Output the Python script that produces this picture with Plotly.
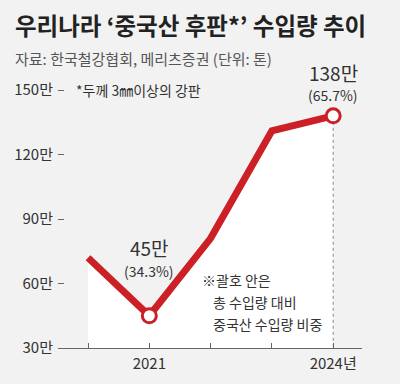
import plotly.graph_objects as go

# Data (단위: 만 톤)
years = [2020, 2021, 2022, 2023, 2024]
imports = [72, 45, 81, 131, 138]
label_years = [2021, 2024]
label_values = ["45만", "138만"]
label_shares = ["(34.3%)", "(65.7%)"]
y_ticks = [30, 60, 90, 120, 150]
y_ticktext = ["30만", "60만", "90만", "120만", "150만"]
x_ticktext = ["", "2021", "", "", "2024년"]
note_lines = ["※괄호 안은", "총 수입량 대비", "중국산 수입량 비중"]

FONT = "Noto Sans CJK KR"
TXT = "#333333"
RED = "#cc2027"
BG = "#f2f2f2"

W, H = 400, 384
L, R, T, B = 58, 38, 80, 36
PW, PH = W - L - R, H - T - B


def px(x):
    return (x - L) / PW


def py(y):
    return (H - B - y) / PH


fig = go.Figure()

# white area under the line
fig.add_trace(go.Scatter(x=years, y=imports, mode="lines", line=dict(width=0),
                         fill="tozeroy", fillcolor="white", hoverinfo="skip"))

# dotted guide at last year
fig.add_trace(go.Scatter(x=[years[-1], years[-1]], y=[imports[-1], y_ticks[0]], mode="lines",
                         line=dict(color="#888888", width=1, dash="dot"), hoverinfo="skip"))

# main line
fig.add_trace(go.Scatter(x=years, y=imports, mode="lines",
                         line=dict(color=RED, width=7)))

# highlighted markers
mk_y = [imports[years.index(y)] for y in label_years]
fig.add_trace(go.Scatter(x=label_years, y=mk_y, mode="markers",
                         marker=dict(size=14, color="white", line=dict(color=RED, width=3))))

for yr, v, s, off_v, off_s in zip(label_years, label_values, label_shares, [68, 43], [45, 21]):
    yy = imports[years.index(yr)]
    fig.add_annotation(x=yr, y=yy, text=v, showarrow=False, yshift=off_v,
                       font=dict(family=FONT, size=19, color=TXT))
    fig.add_annotation(x=yr, y=yy, text=s, showarrow=False, yshift=off_s,
                       font=dict(family=FONT, size=14, color=TXT))

# title & notes
fig.add_annotation(xref="paper", yref="paper", x=px(13), y=py(25), xanchor="left",
                   yanchor="middle", text="<b>우리나라 ‘중국산 후판*’ 수입량 추이</b>", showarrow=False,
                   font=dict(family=FONT, size=23.5, color="#222222"))
fig.add_annotation(xref="paper", yref="paper", x=px(13), y=py(59), xanchor="left",
                   yanchor="middle", text="자료: 한국철강협회, 메리츠증권 (단위: 톤)", showarrow=False,
                   font=dict(family=FONT, size=15, color="#555555"))
fig.add_annotation(xref="paper", yref="paper", x=px(74), y=py(90), xanchor="left",
                   yanchor="middle", text="*두께 3㎜이상의 강판", showarrow=False,
                   font=dict(family=FONT, size=14, color=TXT))
for line, lx, ly in zip(note_lines, [200, 211, 211], [280, 302, 324]):
    fig.add_annotation(xref="paper", yref="paper", x=px(lx), y=py(ly), xanchor="left",
                       yanchor="middle", text=line, showarrow=False,
                       font=dict(family=FONT, size=14, color=TXT))

fig.update_layout(
    width=W, height=H,
    margin=dict(l=L, r=R, t=T, b=B),
    paper_bgcolor=BG, plot_bgcolor=BG,
    showlegend=False,
    font=dict(family=FONT, color=TXT),
)
fig.update_xaxes(range=[2019.51, 2024.47], tickvals=years, ticktext=x_ticktext,
                 showgrid=False, zeroline=False, showline=True, linecolor="#666666", linewidth=1,
                 ticks="inside", ticklen=5, tickcolor="#666666", ticklabelstandoff=2,
                 tickfont=dict(family=FONT, size=15, color=TXT))
fig.update_yaxes(range=[30, 30 + PH / 2.15], tickvals=y_ticks, ticktext=y_ticktext,
                 showgrid=False, zeroline=False, showline=False,
                 ticks="inside", ticklen=6, tickcolor="#666666", ticklabelstandoff=4,
                 tickfont=dict(family=FONT, size=15, color=TXT))

fig.write_html("out.html", config={"displayModeBar": False},
               post_script="document.body.style.margin='0';")
